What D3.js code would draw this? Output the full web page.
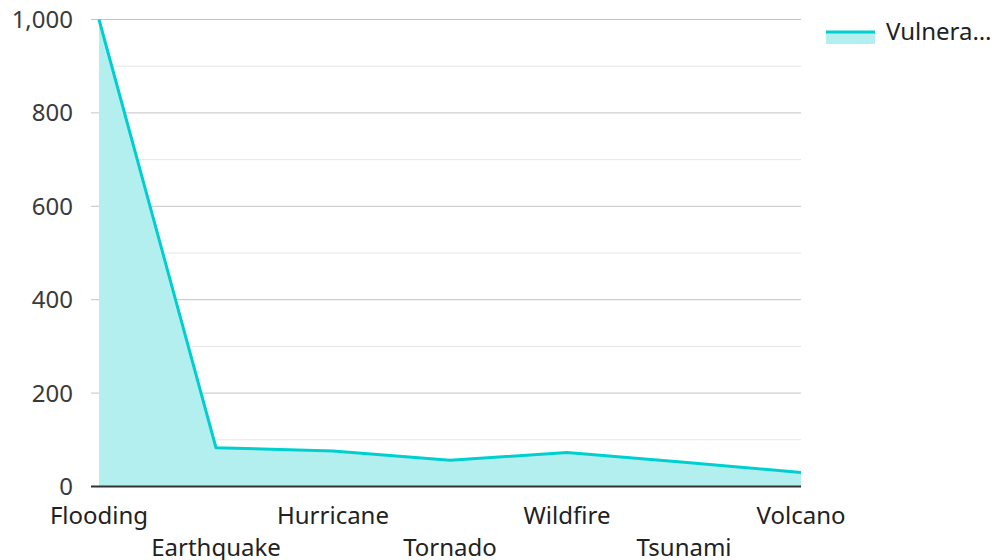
<!DOCTYPE html>
<html>
<head>
<meta charset="utf-8">
<script src="https://cdn.jsdelivr.net/npm/d3@7"></script>
<style>
  html, body { margin: 0; padding: 0; background: #fff; }
  svg { display: block; font-family: "Noto Sans", "Open Sans", sans-serif; }
</style>
</head>
<body>
<svg id="chart" width="996" height="560"></svg>
<script>
// Disaster categories and their vulnerability scores
const categories = ["Flooding", "Earthquake", "Hurricane", "Tornado", "Wildfire", "Tsunami", "Volcano"];
const vulnerability = [1000, 83, 76, 56, 73, 52, 30];
const seriesName = "Vulnerability";
const yTicks = [0, 200, 400, 600, 800, 1000];
const yMinorTicks = [100, 300, 500, 700, 900];

const svg = d3.select("#chart");
const margin = { left: 99, right: 195, top: 19.5, bottom: 73.5 };
const W = 996, H = 560;

const x = d3.scalePoint().domain(categories).range([margin.left, W - margin.right]);
const y = d3.scaleLinear().domain([0, 1000]).range([H - margin.bottom, margin.top]);

const lineColor = "#00cfd0";
const fillColor = "#b2efee";
const fontSize = 24;

// minor grid
svg.append("g").selectAll("line").data(yMinorTicks).join("line")
  .attr("x1", margin.left).attr("x2", W - margin.right)
  .attr("y1", d => y(d)).attr("y2", d => y(d))
  .attr("stroke", "#e6e6e6").attr("stroke-width", 1);

// major grid with small ticks on the left
svg.append("g").selectAll("line").data(yTicks.filter(d => d > 0)).join("line")
  .attr("x1", margin.left - 8).attr("x2", W - margin.right)
  .attr("y1", d => y(d)).attr("y2", d => y(d))
  .attr("stroke", "#c4c4c4").attr("stroke-width", 1);

// area + line
const data = categories.map((c, i) => ({ c, v: vulnerability[i] }));
svg.append("path").datum(data)
  .attr("d", d3.area().x(d => x(d.c)).y0(y(0)).y1(d => y(d.v)))
  .attr("fill", fillColor);
svg.append("path").datum(data)
  .attr("d", d3.line().x(d => x(d.c)).y(d => y(d.v)))
  .attr("fill", "none").attr("stroke", lineColor).attr("stroke-width", 3)
  .attr("stroke-linejoin", "round");

// baseline
svg.append("line")
  .attr("x1", margin.left - 8).attr("x2", W - margin.right)
  .attr("y1", y(0)).attr("y2", y(0))
  .attr("stroke", "#333").attr("stroke-width", 2);

// y labels
svg.append("g").selectAll("text").data(yTicks).join("text")
  .attr("x", 73).attr("y", d => y(d))
  .attr("dy", "0.35em").attr("text-anchor", "end")
  .attr("font-size", fontSize).attr("fill", "#3a3a3a")
  .text(d => d3.format(",")(d));

// x labels, staggered across two rows
svg.append("g").selectAll("text").data(categories).join("text")
  .attr("x", d => x(d)).attr("y", (d, i) => i % 2 === 0 ? 516 : 548)
  .attr("dy", "0.35em").attr("text-anchor", "middle")
  .attr("font-size", fontSize).attr("fill", "#222")
  .text(d => d);

// legend
const lg = svg.append("g");
lg.append("rect").attr("x", 826).attr("y", 31).attr("width", 49).attr("height", 13).attr("fill", fillColor);
lg.append("line").attr("x1", 826).attr("x2", 875).attr("y1", 32).attr("y2", 32)
  .attr("stroke", lineColor).attr("stroke-width", 3);
lg.append("text").attr("x", 886).attr("y", 32).attr("dy", "0.35em")
  .attr("font-size", fontSize).attr("fill", "#222")
  .text(seriesName.slice(0, 7) + "…");
</script>
</body>
</html>
